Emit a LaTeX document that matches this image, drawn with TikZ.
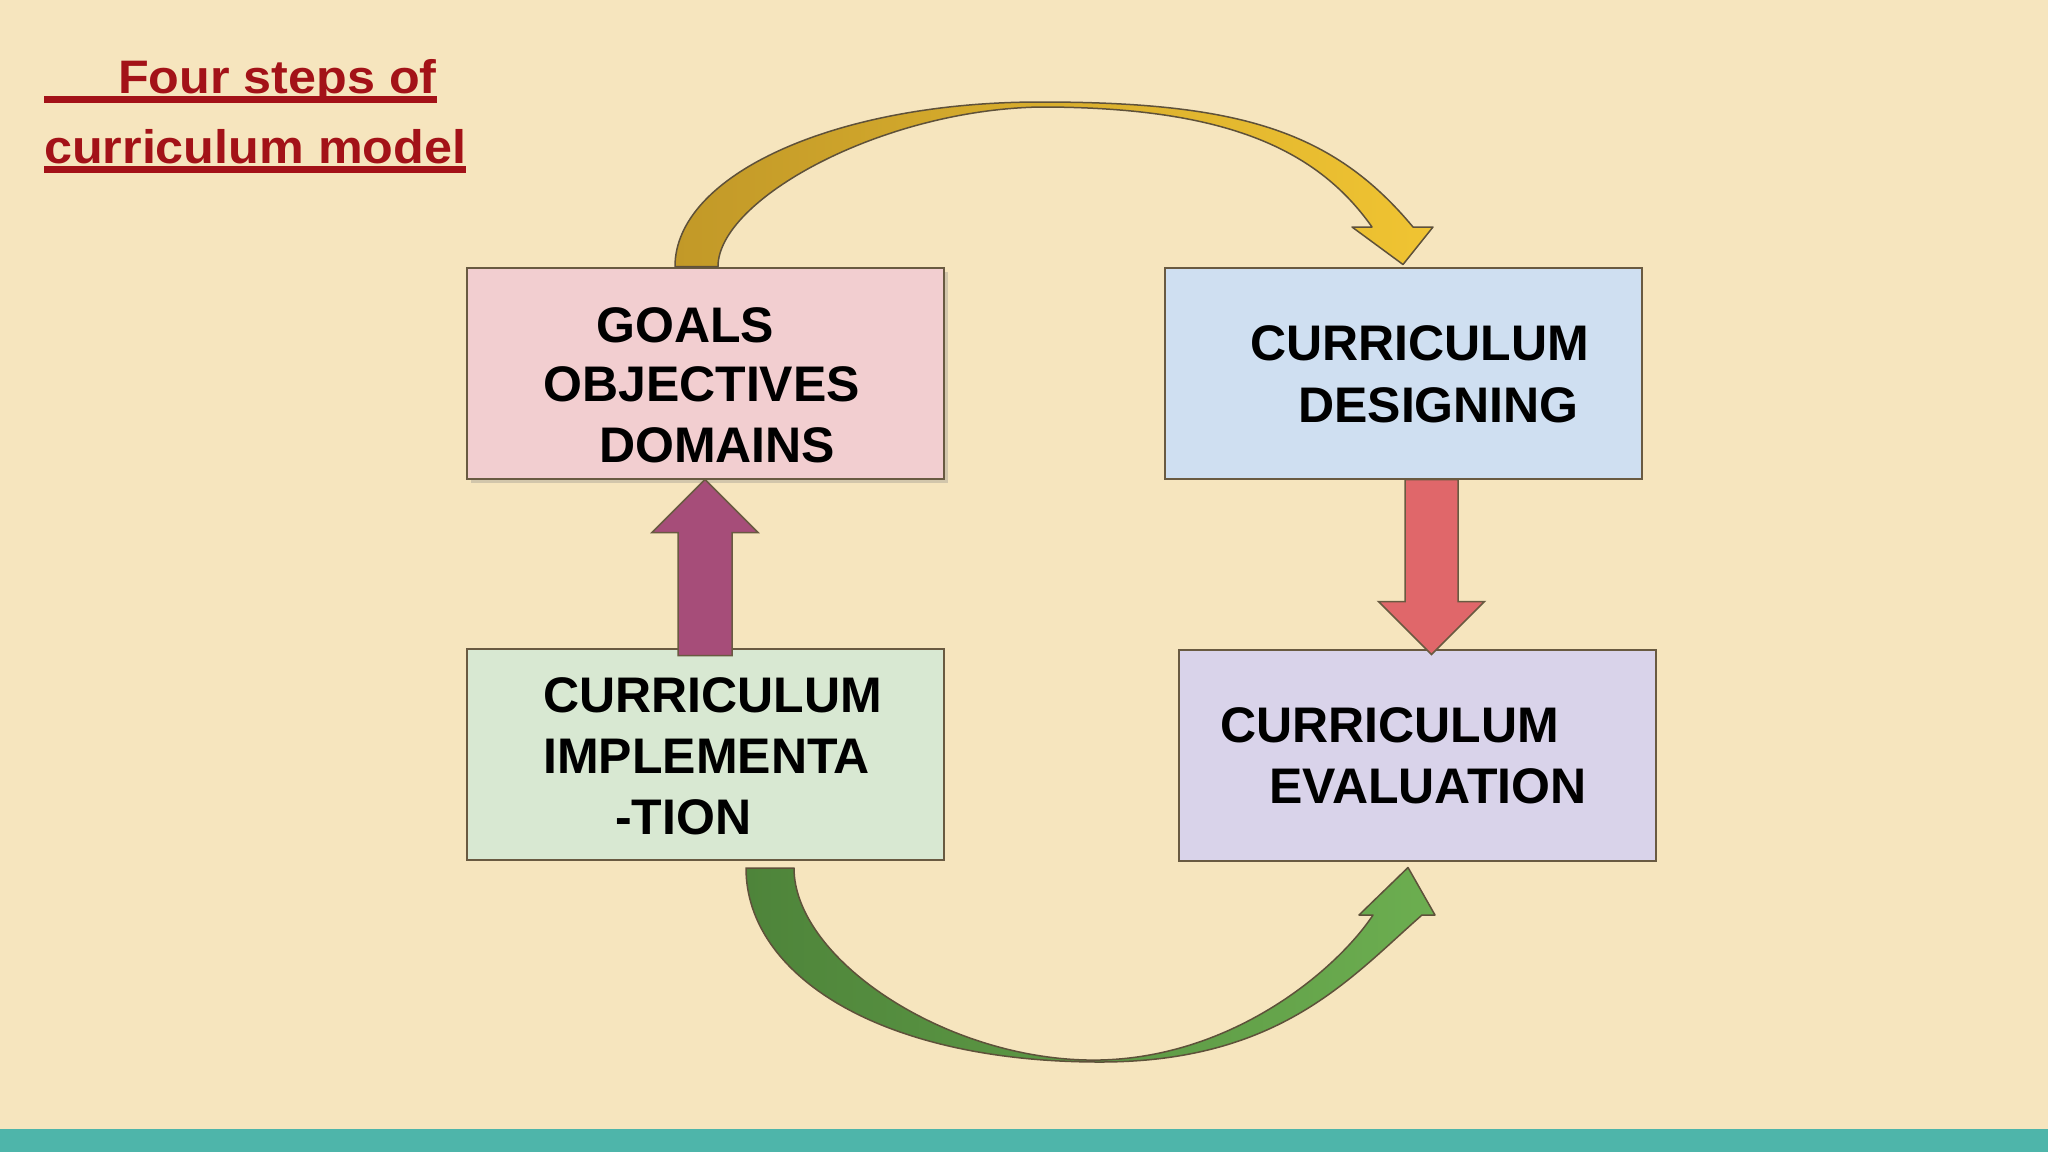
\documentclass[tikz,border=0pt]{standalone}
\usepackage{fontspec}
\setmainfont{Liberation Sans}
\newfontfamily\titlefont[FakeStretch=1.07]{Liberation Sans}
\usetikzlibrary{shadows}
\definecolor{bgcol}{RGB}{246,229,190}
\definecolor{bandcol}{RGB}{78,181,170}
\definecolor{titlered}{RGB}{163,18,24}
\definecolor{pinkfill}{RGB}{242,206,208}
\definecolor{bluefill}{RGB}{207,223,241}
\definecolor{greenfill}{RGB}{216,232,210}
\definecolor{purplefill}{RGB}{217,211,234}
\definecolor{edgecol}{RGB}{105,90,65}
\definecolor{magcol}{RGB}{166,77,121}
\definecolor{redcol}{RGB}{224,103,106}
\definecolor{golddark}{RGB}{194,153,40}
\definecolor{goldlight}{RGB}{240,196,50}
\definecolor{greendark}{RGB}{78,132,58}
\definecolor{greenlight}{RGB}{108,174,80}
\newcommand\myul[1]{\setbox0\hbox{#1}\rlap{\rule[-10pt]{\wd0}{7pt}}\box0}
\begin{document}
\begin{tikzpicture}[x=1pt,y=-1pt,
  stepbox/.style={draw=edgecol, line width=2pt, minimum width=477pt, minimum height=211pt, inner sep=0pt},
  lbl/.style={font=\bfseries\fontsize{50}{60}\selectfont, inner sep=0pt, anchor=base west, text=black},
  ttl/.style={font=\titlefont\bfseries\fontsize{47}{56}\selectfont, inner sep=0pt, anchor=base west, text=titlered},
  blockarrow/.style={draw=edgecol, line width=1.5pt, line join=miter},
  curvearrow/.style={draw=edgecol!90!black, line width=1.5pt, line join=round}
]
\useasboundingbox (0,0) rectangle (2048,1152);
\fill[bgcol] (0,0) rectangle (2048,1152);
\fill[bandcol] (0,1129) rectangle (2048,1152);

% title
\node[ttl] (title1) at (44,93) {\myul{\hspace*{74pt}Four steps of}};
\node[ttl] (title2) at (44,163) {\myul{curriculum model}};

% boxes
\node[stepbox, fill=pinkfill, drop shadow={shadow xshift=4pt, shadow yshift=-4pt, opacity=0.3}] (goals) at (705,373) {};
\node[stepbox, fill=bluefill] (des) at (1403,373) {};
\node[stepbox, fill=greenfill] (imp) at (705.5,754.5) {};
\node[stepbox, fill=purplefill] (eval) at (1417,755) {};

% labels
\node[lbl] (g1) at (596,342) {GOALS};
\node[lbl] (g2) at (543,401) {OBJECTIVES};
\node[lbl] (g3) at (599,462) {DOMAINS};
\node[lbl] (d1) at (1250,360) {CURRICULUM};
\node[lbl] (d2) at (1298,422) {DESIGNING};
\node[lbl] (i1) at (543,712) {CURRICULUM};
\node[lbl] (i2) at (543,773) {IMPLEMENTA};
\node[lbl] (i3) at (615,834) {-TION};
\node[lbl] (e1) at (1220,742) {CURRICULUM};
\node[lbl] (e2) at (1269,803) {EVALUATION};

% straight block arrows
\draw[blockarrow, fill=magcol] (goals.south) -- ++(53,53) -- ++(-26,0) -- ++(0,123)
  -- ++(-54,0) -- ++(0,-123) -- ++(-26,0) -- cycle;
\draw[blockarrow, fill=redcol] ([xshift=2pt]des.south) -- ++(53,0) -- ++(0,122) -- ++(26.5,0)
  -- ++(-53,53) -- ++(-53,-53) -- ++(26.5,0) -- cycle;

% curved arrow goals -> designing
\draw[curvearrow, left color=golddark, right color=goldlight]
  ([xshift=-30pt]goals.north) .. controls (675,175) and (835,102) .. (1040,102)
  .. controls (1240,102) and (1333,131) .. (1413,227) -- (1433,227) -- ([yshift=2pt]des.north)
  -- (1352,227) -- (1372,227) .. controls (1315,146) and (1220,107) .. (1040,107)
  .. controls (880,110) and (718,200) .. ([xshift=13pt]goals.north) -- cycle;

% curved arrow implementation -> evaluation
\draw[curvearrow, left color=greendark, right color=greenlight]
  ([xshift=40.5pt,yshift=-7pt]imp.south) .. controls (746,975) and (880,1062) .. (1100,1062)
  .. controls (1280,1062) and (1350,978) .. (1422,915) -- (1435,915) -- ([xshift=-9pt,yshift=-6pt]eval.south)
  -- (1359,915) -- (1373,915) .. controls (1338,968) and (1235,1057) .. (1100,1060)
  .. controls (950,1063) and (794,960) .. ([xshift=88.5pt,yshift=-7pt]imp.south) -- cycle;
\end{tikzpicture}
\end{document}
